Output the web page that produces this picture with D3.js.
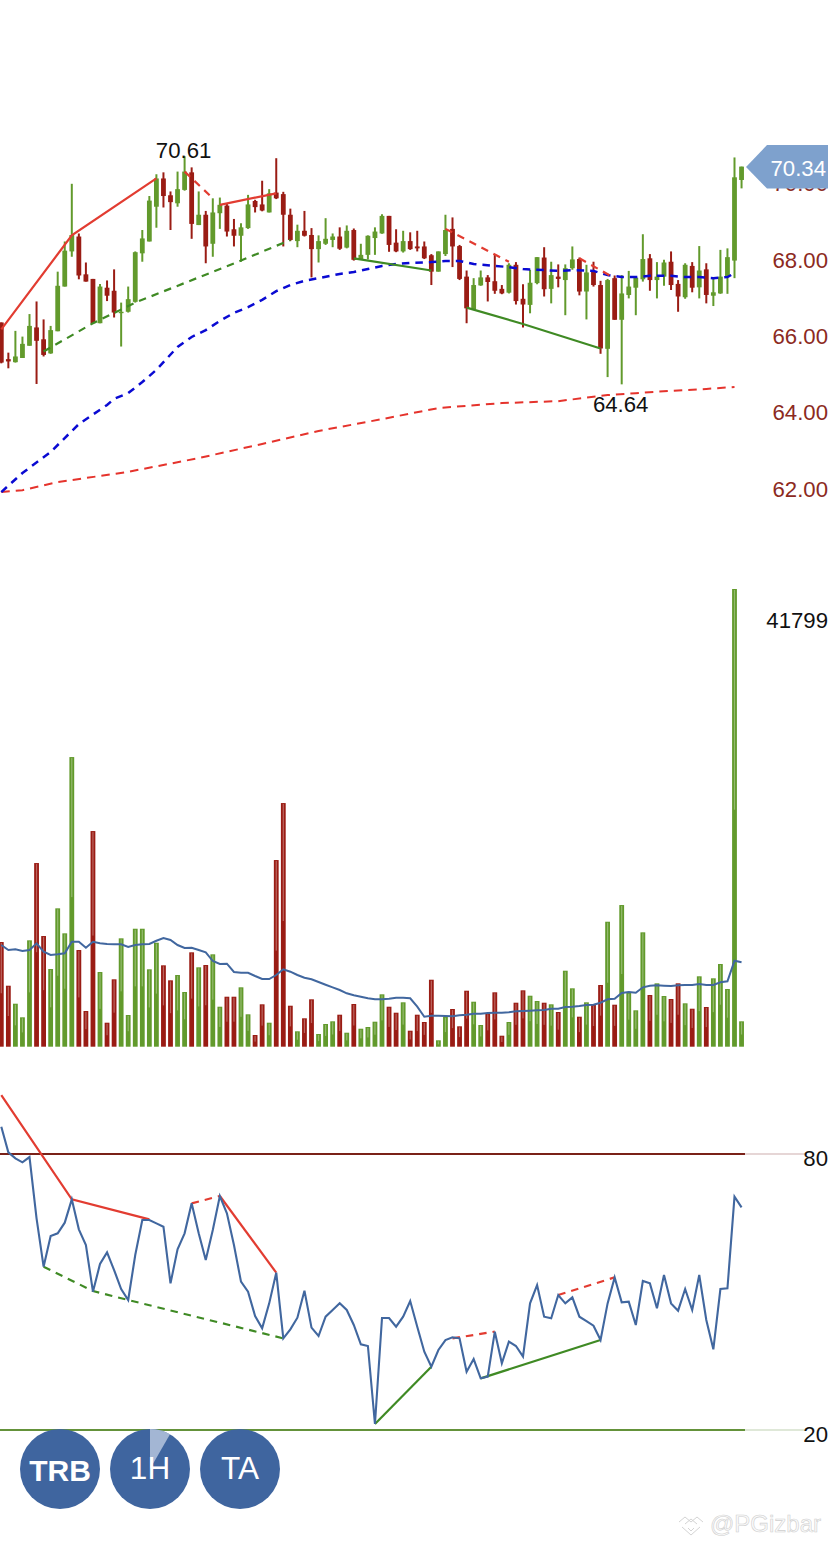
<!DOCTYPE html>
<html><head><meta charset="utf-8">
<script src="https://cdn.jsdelivr.net/npm/d3@7/dist/d3.min.js"></script>
<style>html,body{margin:0;padding:0;background:#fff}svg{display:block}text{font-family:"Liberation Sans",Arial,sans-serif}</style>
</head><body><svg id="c" width="828" height="1545"></svg>
<script>
const opens=[66.26,65.30,65.22,65.33,65.65,66.13,65.82,65.45,66.03,67.20,68.12,68.51,67.52,67.40,66.24,67.17,67.09,66.52,66.54,66.80,68.07,68.38,69.29,70.03,69.59,69.38,69.73,70.19,68.81,69.08,68.32,69.12,69.32,68.70,68.53,68.73,69.44,69.35,69.14,69.66,69.62,69.08,68.39,68.66,68.55,68.18,68.32,68.42,68.51,68.22,68.68,67.91,68.03,68.47,68.59,69.05,68.35,68.12,68.39,68.25,68.25,68.02,67.59,68.05,68.71,68.26,67.46,66.61,67.23,67.44,67.34,67.14,67.04,67.77,66.88,66.72,67.29,67.96,67.14,67.46,67.37,67.68,67.92,67.07,67.61,67.24,65.57,67.42,66.33,66.98,67.17,67.39,67.94,67.37,67.46,67.85,67.27,66.92,67.74,67.18,67.65,66.96,67.02,67.46,67.88,69.99];
const closes=[65.21,65.24,65.37,65.70,66.17,65.78,65.41,66.06,67.22,68.14,68.55,67.49,67.33,66.24,67.20,66.96,66.52,66.54,66.87,68.10,68.46,69.45,70.03,69.57,69.41,69.75,70.21,68.84,69.08,68.25,69.14,69.34,68.64,68.53,68.75,69.35,69.28,69.19,69.64,69.51,69.08,68.42,68.66,68.53,68.18,68.39,68.45,68.51,68.19,68.66,67.90,68.03,68.53,68.64,69.05,68.29,68.12,68.39,68.18,68.20,67.94,67.59,68.12,68.68,68.25,67.40,66.63,67.24,67.44,67.32,67.09,67.02,67.77,66.82,66.73,67.30,67.97,67.13,67.50,67.40,67.68,67.91,67.07,67.57,67.24,65.58,67.37,66.33,67.02,67.20,67.43,67.92,67.37,67.46,67.83,67.24,66.94,67.77,67.17,67.62,66.98,67.05,67.46,67.97,70.06,70.34];
const highs=[66.26,65.47,66.04,65.89,66.48,66.81,66.34,66.17,67.59,68.38,69.89,68.59,67.83,67.40,67.27,67.36,67.65,66.78,67.20,68.12,68.68,69.57,70.14,70.19,69.69,70.21,70.61,70.32,69.69,69.18,69.51,69.53,69.38,68.97,68.86,69.60,69.47,69.97,69.75,70.56,69.68,69.24,68.82,69.18,68.73,68.54,68.99,68.59,68.75,68.80,68.72,68.32,68.54,68.75,69.09,69.05,68.70,68.66,68.62,68.66,68.38,68.05,68.12,69.08,69.01,68.29,67.62,67.42,67.62,67.50,68.05,67.24,67.81,67.84,67.26,67.64,67.97,68.23,67.85,67.78,67.78,68.25,67.96,67.77,67.85,67.35,67.40,67.49,67.50,67.61,67.46,68.57,68.05,67.84,67.90,68.12,67.37,67.81,67.84,68.26,67.81,67.42,68.16,68.20,70.58,70.34];
const lows=[65.19,65.06,65.21,65.33,65.65,64.65,65.37,65.44,66.03,67.20,67.98,67.39,67.33,66.22,66.24,66.82,66.39,65.63,66.52,66.78,67.85,68.38,68.74,69.27,68.68,69.29,69.71,68.45,68.81,67.81,67.98,68.71,68.51,68.25,67.85,68.71,69.14,69.17,69.14,69.49,68.25,68.39,68.23,68.51,67.44,67.83,68.29,68.23,68.16,68.20,67.88,67.90,67.91,68.03,68.58,68.11,68.10,68.09,68.16,68.12,67.92,67.24,67.59,68.00,67.71,67.37,66.24,66.59,67.22,66.81,67.01,67.00,67.02,66.73,66.13,66.50,67.26,66.94,66.76,67.18,66.45,67.64,66.97,66.34,67.20,65.44,64.83,66.33,64.64,66.89,66.45,67.33,67.09,66.89,67.22,67.11,66.54,66.88,67.05,66.89,66.76,66.69,67.01,67.01,67.42,69.77];
const volumes=[9559,5569,3926,2684,9714,16772,10107,7094,12636,10353,26450,8829,3259,19693,6820,2191,6154,9897,2894,10773,10773,7067,9495,7432,6062,6546,4994,8619,7249,7459,8436,3652,4565,4565,5423,2958,1068,3871,2191,17046,22250,3743,1406,2593,4328,1160,2073,2319,2922,1278,3899,1643,1799,2283,4784,3652,3104,4054,1461,2922,2255,6117,584,2739,3442,1863,5113,4109,1981,3049,4967,1004,2255,4017,5149,4656,4172,4017,3871,3168,6939,5332,2739,4054,3807,5633,11413,3835,12937,4930,3323,10445,4720,5788,4629,4355,5788,3962,3469,6428,3625,6245,7551,5268,41799,2319];
const volumeAvg=[9285,8829,8893,8737,8829,9440,8674,8372,8436,8527,9587,9587,9039,9587,9440,9377,9349,9349,9103,9285,9349,9377,9678,9924,9742,9285,9011,9039,8829,8619,7824,7551,7578,6820,6756,6756,6455,6181,6181,6546,7067,6848,6546,6300,6154,5907,5661,5423,5177,4875,4693,4565,4419,4328,4328,4382,4474,4474,4419,3652,2739,2830,2830,2803,2776,2867,2922,3013,3013,3077,3104,3104,3141,3232,3259,3287,3323,3351,3469,3469,3625,3652,3716,3807,3835,4017,4328,4382,4903,4994,4930,5423,5569,5606,5569,5542,5606,5633,5633,5725,5633,5633,5880,5971,7852,7706];
const rsi=[85.94,80.36,79.05,78.19,79.34,66.01,55.50,62.17,62.75,65.07,70.14,63.62,60.21,50.07,56.08,58.62,54.78,50.65,48.26,58.04,65.65,65.65,64.92,64.20,51.88,59.27,62.75,69.27,62.75,56.95,63.48,70.87,67.10,60.21,52.24,50.07,44.78,42.10,47.53,54.20,39.92,41.88,44.42,50.29,42.25,40.43,44.64,46.09,47.54,46.09,42.83,38.62,38.26,21.30,44.35,44.35,42.46,44.64,48.04,42.46,37.03,33.77,37.39,39.56,40.14,39.93,32.68,35.43,31.23,31.59,41.38,34.49,39.20,38.26,35.94,47.54,51.52,44.63,44.27,49.34,47.53,48.84,44.63,43.69,42.68,39.56,47.53,53.18,47.75,47.90,42.82,52.39,51.88,46.45,53.69,47.53,45.94,50.65,46.08,53.69,43.91,37.53,50.65,50.79,70.72,68.40];
const blueMA=[[0,61.82],[3,62.32],[7,62.87],[11,63.60],[15,64.10],[16,64.26],[18,64.41],[20,64.70],[22,65.02],[25,65.62],[27,65.88],[29,66.06],[31,66.30],[33,66.51],[35,66.66],[37,66.85],[39,67.08],[41,67.24],[43,67.35],[45,67.42],[48,67.53],[50,67.58],[52,67.66],[54,67.74],[56,67.79],[58,67.82],[61,67.84],[63,67.87],[65,67.87],[67,67.79],[70,67.74],[72,67.71],[74,67.66],[77,67.63],[79,67.61],[81,67.63],[84,67.61],[86,67.50],[88,67.45],[90,67.45],[92,67.48],[95,67.48],[97,67.45],[99,67.45],[101,67.42],[103,67.45],[104,67.55]];
const redMA=[[0,61.82],[3,61.87],[8,62.08],[18,62.35],[28,62.71],[37,63.08],[45,63.42],[54,63.73],[62,64.02],[71,64.15],[79,64.20],[86,64.36],[90,64.41],[95,64.47],[100,64.52],[104,64.57]];
const priceTrends=[
 {kind:"red",   pts:[[0,66.08],[10,68.54],[22,70.03]]},
 {kind:"redD",  pts:[[26,70.21],[30,69.51]]},
 {kind:"red",   pts:[[31,69.34],[39,69.64]]},
 {kind:"greenD",pts:[[6,65.50],[13,66.24],[19,66.78],[34,67.88],[41,68.42]]},
 {kind:"green", pts:[[50,67.94],[61,67.62]]},
 {kind:"redD",  pts:[[63,68.71],[72,67.85]]},
 {kind:"redD",  pts:[[82,67.94],[87,67.42]]},
 {kind:"green", pts:[[66,66.65],[74,66.22],[85,65.58]]}
];
const rsiTrends=[
 {kind:"red",   pts:[[0,92.82],[10,70.14],[21,65.79]]},
 {kind:"redD",  pts:[[27,69.27],[31,70.87]]},
 {kind:"red",   pts:[[31,70.87],[39,54.20]]},
 {kind:"greenD",pts:[[6,55.50],[13,50.20],[18,48.26],[40,39.92]]},
 {kind:"green", pts:[[53,21.30],[61,33.77]]},
 {kind:"redD",  pts:[[64,39.93],[70,41.38]]},
 {kind:"green", pts:[[68,31.23],[85,39.56]]},
 {kind:"redD",  pts:[[79,49.34],[87,53.18]]}
];
const priceTicks=[62,64,66,68,70];
const rsiTicks=[80,20];
const buttons=["TRB","1H","TA"];
const highLabel="70.61", lowLabel="64.64", lastLabel="70.34", volLabel="41799";

const GREEN="#629a2c",RED="#9a1c14",BLUE="#41679f";
const FS="22.2px";
const idx=d3.range(opens.length);
const svg=d3.select("#c");
const x=d3.scaleLinear().domain([0,105]).range([1.3,741.55]);
const y=d3.scaleLinear().domain([62,70]).range([485.2,179.6]);
const v=d3.scaleLinear().domain([0,41799]).range([1046.7,589]);
const r=d3.scaleLinear().domain([20,80]).range([1430,1154]);
const col=i=>closes[i]>=opens[i]?GREEN:RED;

/* price axis (labels sit slightly below their tick position) */
const ax=svg.append("g").attr("transform","translate(828,0)")
  .call(d3.axisLeft(y).tickValues(priceTicks).tickSize(0).tickFormat(d3.format(".2f")));
ax.select(".domain").remove();
ax.selectAll("text").attr("x",0).attr("dy","0.32em").attr("transform","translate(0,4)")
  .attr("fill","#8c2a22").style("font-size",FS).attr("text-anchor","end");

/* candles */
const cg=svg.append("g");
cg.selectAll("line.w").data(idx).join("line").attr("x1",x).attr("x2",x)
  .attr("y1",i=>y(highs[i])).attr("y2",i=>y(lows[i])).attr("stroke",col).attr("stroke-width",2);
cg.selectAll("rect").data(idx).join("rect").attr("x",i=>x(i)-2.4).attr("width",4.8)
  .attr("y",i=>y(Math.max(opens[i],closes[i])))
  .attr("height",i=>Math.max(1.4,Math.abs(y(opens[i])-y(closes[i])))).attr("fill",col);

const styles={red:{s:"#e23c31",d:null},redD:{s:"#e23c31",d:"7.5 6"},green:{s:"#3f8a24",d:null},greenD:{s:"#3f8a24",d:"7.5 6"}};
const lineOf=(sy)=>d3.line().x(d=>x(d[0])).y(d=>sy(d[1]));
const drawTrends=(list,sy)=>list.forEach(t=>{
  svg.append("path").attr("d",lineOf(sy)(t.pts)).attr("fill","none")
   .attr("stroke",styles[t.kind].s).attr("stroke-width",2.2).attr("stroke-dasharray",styles[t.kind].d);
});

svg.append("path").attr("d",lineOf(y)(redMA)).attr("fill","none").attr("stroke","#e5332c").attr("stroke-width",2).attr("stroke-dasharray","8.5 6");
svg.append("path").attr("d",lineOf(y)(blueMA)).attr("fill","none").attr("stroke","#0a0ad2").attr("stroke-width",2.5).attr("stroke-dasharray","7.5 6");
drawTrends(priceTrends,y);

svg.append("text").attr("x",x(26)-1).attr("y",157.5).attr("text-anchor","middle").attr("fill","#111").style("font-size",FS).text(highLabel);
svg.append("text").attr("x",x(88)-1).attr("y",411.5).attr("text-anchor","middle").attr("fill","#111").style("font-size",FS).text(lowLabel);

/* last price tag */
svg.append("polygon").attr("points","746,167 767,145 828,145 828,188.5 767,188.5").attr("fill","#7ea1cd");
svg.append("text").attr("x",826).attr("y",175.5).attr("text-anchor","end").attr("fill","#fff").style("font-size",FS).text(lastLabel);

/* volume */
const vg=svg.append("g");
vg.selectAll("rect.b").data(idx).join("rect").attr("class","b").attr("x",i=>x(i)-2.4).attr("width",4.8)
  .attr("y",i=>v(volumes[i])).attr("height",i=>v(0)-v(volumes[i])).attr("fill",col);
vg.selectAll("rect.h").data(idx).join("rect").attr("class","h").attr("x",i=>x(i)-0.6).attr("width",1.2)
  .attr("y",i=>v(volumes[i])+1).attr("height",i=>(v(0)-v(volumes[i]))*0.48).attr("fill","#fff").attr("opacity",0.32);
svg.append("path").attr("d",d3.line().x((d,i)=>x(i)).y(d=>v(d))(volumeAvg)).attr("fill","none").attr("stroke",BLUE).attr("stroke-width",2);
svg.append("text").attr("x",828).attr("y",628).attr("text-anchor","end").attr("fill","#111").style("font-size",FS).text(volLabel);

/* oscillator */
[[80,"#7a2118","#e6d6d6"],[20,"#64923a","#dfe8d8"]].forEach(([t,c,f])=>{
  svg.append("line").attr("x1",745).attr("x2",805).attr("y1",r(t)).attr("y2",r(t)).attr("stroke",f).attr("stroke-width",2);
  svg.append("line").attr("x1",0).attr("x2",745).attr("y1",r(t)).attr("y2",r(t)).attr("stroke",c).attr("stroke-width",2);
});
svg.selectAll("text.rt").data(rsiTicks).join("text").attr("class","rt").attr("x",828).attr("y",d=>r(d)+11.5)
  .attr("text-anchor","end").attr("fill","#111").style("font-size",FS).text(d=>d);
drawTrends(rsiTrends,r);
svg.append("path").attr("d",d3.line().x((d,i)=>x(i)).y(d=>r(d))(rsi)).attr("fill","none").attr("stroke",BLUE).attr("stroke-width",2.1);

/* buttons */
const bx=d3.scalePoint().domain(buttons).range([60,240]);
const bg=svg.selectAll("g.btn").data(buttons).join("g").attr("class","btn").attr("transform",d=>`translate(${bx(d)},1469)`);
bg.append("circle").attr("r",40).attr("fill","#3f659f");
bg.filter(d=>d==="1H").append("path").attr("d",d3.arc()({innerRadius:0,outerRadius:40,startAngle:0,endAngle:30*Math.PI/180})).attr("fill","#a3b6d4");
bg.append("text").attr("text-anchor","middle").attr("y",d=>d==="TRB"?12:10).attr("fill","#fff")
  .style("font-size",d=>d==="TRB"?"30px":"31.5px").style("font-weight",d=>d==="TRB"?"700":"400").text(d=>d);

/* watermark */
const wm=svg.append("g").attr("fill","none").attr("stroke","#d4d4d4").attr("stroke-width",1);
wm.append("path").attr("d","M679,1522l6,-5l6,5l6,-5l6,5M685,1524l6,-5l6,5M682,1527l9,8l9,-8M688,1528l3,3l3,-3");
svg.append("text").attr("x",710).attr("y",1532).attr("fill","#fbfbfb").attr("stroke","#cfcfcf").attr("stroke-width",0.6).style("font-size","24px").text("@PGizbar");
</script></body></html>
